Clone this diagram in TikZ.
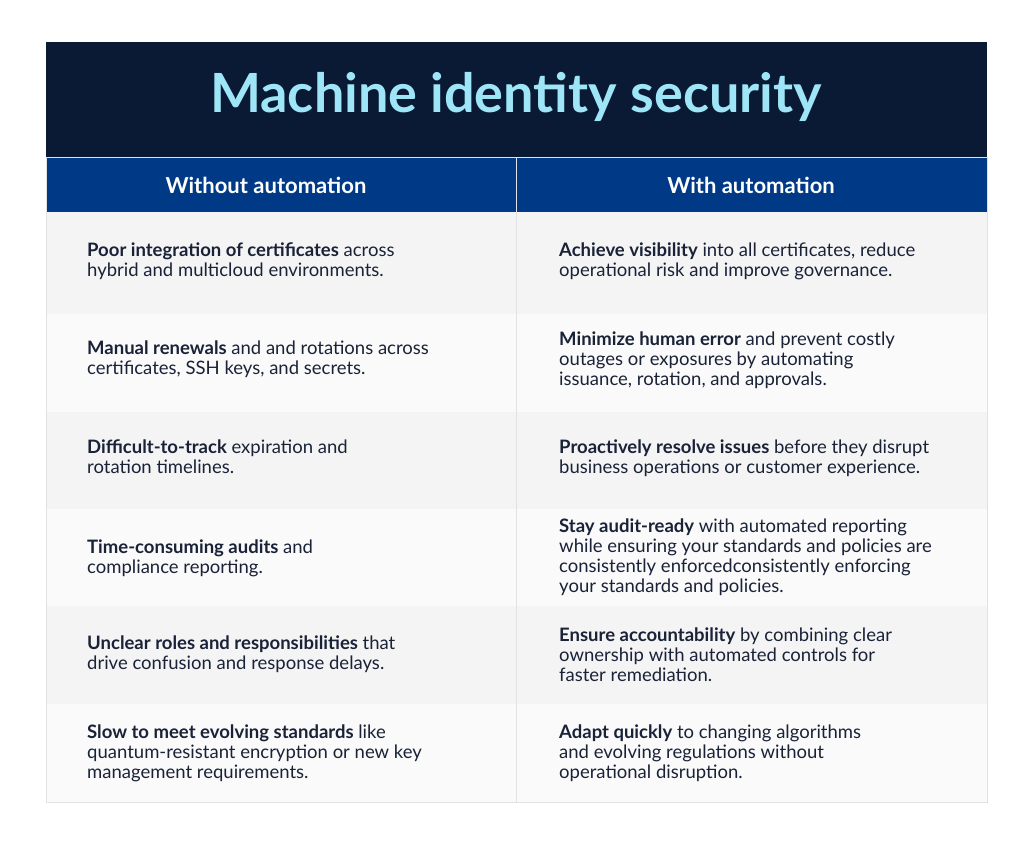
\documentclass[tikz,border=0pt]{standalone}
\usepackage{fontspec}
\setmainfont{Lato}
\usetikzlibrary{positioning}
\definecolor{navy}{HTML}{0A1A35}
\definecolor{headblue}{HTML}{003A86}
\definecolor{titlecyan}{HTML}{9EE6F7}
\definecolor{inkblue}{HTML}{1A2238}
\definecolor{rowa}{HTML}{F4F4F4}
\definecolor{rowb}{HTML}{FAFAFA}
\definecolor{gridline}{HTML}{E2E2E4}
\begin{document}
\begin{tikzpicture}[x=1pt, y=-1pt,
                        cell/.style = {anchor=west, align=left, inner sep=0pt,
                                       text=inkblue, font=\fontsize{18.5}{20}\selectfont},   % body cells
                        head/.style = {text=white, font=\fontsize{22}{24}\selectfont\bfseries}] % column heads
        \useasboundingbox (0,0) rectangle (1024,847);
        \fill[white] (0,0) rectangle (1024,847);
        % title and header bands
        \fill[navy] (46,42) rectangle (987,157);
        \fill[headblue] (46,157) rectangle (987,212);
        \node[text=titlecyan, font=\fontsize{54}{58}\selectfont\bfseries] (title) at (516,97) {Machine identity security};
        \node[head] (hleft) at (266,185) {Without automation};
        \node[head] (hright) at (751,185) {With automation};
        % row backgrounds
        \foreach \top/\bot/\col in {212/314/rowa, 314/412/rowb, 412/509/rowa, 509/606/rowb, 606/704/rowa, 704/802/rowb}
            \fill[\col] (46,\top) rectangle (987,\bot);
        \draw[gridline] (46,157) rectangle (987,802);
        \draw[gridline] (516,157) -- (516,802);
        %cells:left
        \node[cell] (l1) at (87,261) {\textbf{Poor integration of certificates} across\\ hybrid and multicloud environments.};
        \node[cell] (l2) at (87,359) {\textbf{Manual renewals} and and rotations across\\ certificates, SSH keys, and secrets.};
        \node[cell] (l3) at (87,457) {\textbf{Difficult-to-track} expiration and\\ rotation timelines.};
        \node[cell] (l4) at (87,558) {\textbf{Time-consuming audits} and\\ compliance reporting.};
        \node[cell] (l5) at (87,654) {\textbf{Unclear roles and responsibilities} that\\ drive confusion and response delays.};
        \node[cell] (l6) at (87,753) {\textbf{Slow to meet evolving standards} like\\ quantum-resistant encryption or new key\\ management requirements.};
        %cells:right
        \node[cell] (r1) at (559,261) {\textbf{Achieve visibility} into all certificates, reduce\\ operational risk and improve governance.};
        \node[cell] (r2) at (559,360) {\textbf{Minimize human error} and prevent costly\\ outages or exposures by automating\\ issuance, rotation, and approvals.};
        \node[cell] (r3) at (559,458) {\textbf{Proactively resolve issues} before they disrupt\\ business operations or customer experience.};
        \node[cell] (r4) at (559,557) {\textbf{Stay audit-ready} with automated reporting\\ while ensuring your standards and policies are\\ consistently enforcedconsistently enforcing\\ your standards and policies.};
        \node[cell] (r5) at (559,655) {\textbf{Ensure accountability} by combining clear\\ ownership with automated controls for\\ faster remediation.};
        \node[cell] (r6) at (559,753) {\textbf{Adapt quickly} to changing algorithms\\ and evolving regulations without\\ operational disruption.};
    \end{tikzpicture}
\end{document}
